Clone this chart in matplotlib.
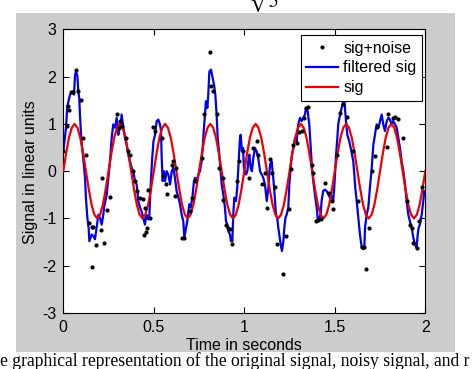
#!/usr/bin/env python
# Clean sine, noisy samples and the filtered output on a MATLAB-like grey panel

import numpy as np
import matplotlib.pyplot as plt
from matplotlib.patches import Rectangle

W, H = 474, 369

# clean signal, 64 samples per second over 2 s
sig = [0.0, 0.38, 0.71, 0.92, 1.0, 0.92, 0.71, 0.38, 0.0, -0.38, -0.71, -0.92, -1.0, -0.92, -0.71, -0.38,
       0.0, 0.38, 0.71, 0.92, 1.0, 0.92, 0.71, 0.38, 0.0, -0.38, -0.71, -0.92, -1.0, -0.92, -0.71, -0.38,
       0.0, 0.38, 0.71, 0.92, 1.0, 0.92, 0.71, 0.38, 0.0, -0.38, -0.71, -0.92, -1.0, -0.92, -0.71, -0.38,
       0.0, 0.38, 0.71, 0.92, 1.0, 0.92, 0.71, 0.38, 0.0, -0.38, -0.71, -0.92, -1.0, -0.92, -0.71, -0.38,
       0.0, 0.38, 0.71, 0.92, 1.0, 0.92, 0.71, 0.38, 0.0, -0.38, -0.71, -0.92, -1.0, -0.92, -0.71, -0.38,
       0.0, 0.38, 0.71, 0.92, 1.0, 0.92, 0.71, 0.38, 0.0, -0.38, -0.71, -0.92, -1.0, -0.92, -0.71, -0.38,
       0.0, 0.38, 0.71, 0.92, 1.0, 0.92, 0.71, 0.38, 0.0, -0.38, -0.71, -0.92, -1.0, -0.92, -0.71, -0.38,
       0.0, 0.38, 0.71, 0.92, 1.0, 0.92, 0.71, 0.38, 0.0, -0.38, -0.71, -0.92, -1.0, -0.92, -0.71, -0.38,
       0.0]
t_sig = np.arange(len(sig)) / 64.0

# filtered signal
t_filt = [0.000, 0.015, 0.022, 0.037, 0.052, 0.059, 0.065, 0.070, 0.078, 0.083, 0.088, 0.092, 0.099,
          0.110, 0.120, 0.125, 0.133, 0.140, 0.144, 0.157, 0.166, 0.175, 0.184, 0.194, 0.203, 0.212,
          0.221, 0.225, 0.240, 0.249, 0.258, 0.267, 0.276, 0.286, 0.295, 0.304, 0.310, 0.317, 0.322,
          0.332, 0.341, 0.350, 0.359, 0.368, 0.378, 0.387, 0.396, 0.405, 0.411, 0.414, 0.424, 0.433,
          0.442, 0.451, 0.460, 0.470, 0.476, 0.482, 0.490, 0.498,
          0.507, 0.516, 0.525, 0.534, 0.540, 0.543, 0.549, 0.556, 0.562, 0.571, 0.580, 0.590, 0.599,
          0.608, 0.617, 0.626, 0.636, 0.645, 0.654, 0.663, 0.669, 0.678, 0.685, 0.691, 0.696, 0.704,
          0.713, 0.722, 0.728, 0.737, 0.746, 0.755, 0.764, 0.770, 0.777, 0.783, 0.788, 0.796, 0.801,
          0.807, 0.816, 0.825, 0.834, 0.840, 0.847, 0.853, 0.862, 0.869, 0.875, 0.884, 0.893, 0.899,
          0.906, 0.912, 0.921, 0.926, 0.934, 0.939, 0.945, 0.954, 0.961, 0.969, 0.976, 0.980, 0.987,
          0.993, 0.998,
          1.009, 1.017, 1.022, 1.028, 1.035, 1.042, 1.050, 1.059, 1.068, 1.077, 1.087, 1.096, 1.105,
          1.114, 1.124, 1.133, 1.142, 1.151, 1.160, 1.166, 1.175, 1.182, 1.188, 1.193, 1.201, 1.208,
          1.216, 1.221, 1.227, 1.234, 1.243, 1.249, 1.256, 1.263, 1.271, 1.280, 1.289, 1.298, 1.308,
          1.317, 1.326, 1.335, 1.341, 1.350, 1.359, 1.366, 1.374, 1.381, 1.390, 1.400, 1.407, 1.414,
          1.422, 1.427, 1.436, 1.445, 1.455, 1.464, 1.473, 1.482, 1.491, 1.497, 1.503,
          1.507, 1.514, 1.519, 1.529, 1.538, 1.547, 1.551, 1.556, 1.562, 1.569, 1.580, 1.588, 1.595,
          1.602, 1.608, 1.613, 1.621, 1.630, 1.639, 1.649, 1.658, 1.663, 1.667, 1.676, 1.685, 1.694,
          1.704, 1.713, 1.722, 1.731, 1.741, 1.750, 1.759, 1.768, 1.777, 1.787, 1.796, 1.805, 1.814,
          1.823, 1.833, 1.842, 1.851, 1.860, 1.869, 1.879, 1.888, 1.897, 1.906, 1.915, 1.925, 1.934,
          1.943, 1.952, 1.958, 1.963, 1.970, 1.980, 1.989, 1.994]
filt = [0.42, 0.92, 1.37, 1.62, 1.69, 1.62, 2.04, 2.11, 2.01, 1.69, 1.55, 1.20, 0.70,
        0.28, -0.14, -0.56, -0.99, -1.20, -1.48, -1.34, -1.37, -1.44, -1.20, -0.92, -0.99, -1.13,
        -0.92, -0.77, -0.49, -0.14, 0.21, 0.70, 0.99, 0.92, 1.13, 0.77, 0.99, 0.92, 1.20,
        0.92, 0.70, 0.56, 0.35, 0.21, 0.07, 0.00, -0.21, -0.28, -0.49, -0.63, -0.77, -0.85,
        -0.99, -1.13, -0.92, -1.02, -0.92, -0.35, 0.21, 0.63,
        0.77, 1.06, 1.09, 0.99, 0.85, 0.35, -0.21, 0.00, -0.21, 0.00, -0.07, -0.28, 0.00,
        0.07, -0.14, -0.42, -0.56, -0.70, -0.92, -1.06, -1.41, -1.20, -1.06, -0.85, -0.70, -0.77,
        -0.56, -0.21, -0.14, -0.21, -0.07, 0.00, 0.21, 0.49, 0.92, 1.20, 1.48, 1.34, 1.62,
        2.11, 2.15, 1.97, 1.80, 1.62, 1.20, 0.70, 0.35, 0.00, -0.28, -0.49, -0.77, -1.06,
        -1.13, -1.27, -1.34, -1.48, -1.48, -0.92, -0.56, -0.63, -0.35, 0.21, 0.70, 0.77, 0.42,
        0.49, 0.07,
        -0.07, 0.00, 0.21, 0.35, 0.07, 0.00, 0.28, 0.49, 0.42, 0.28, 0.00, -0.07, -0.14,
        -0.28, -0.63, -0.35, 0.14, 0.21, -0.14, -0.42, -0.92, -0.99, -1.20, -1.34, -1.55, -1.69,
        -1.48, -1.20, -0.99, -0.92, -0.77, -0.28, 0.07, 0.35, 0.49, 0.70, 0.63, 0.99, 1.13,
        1.06, 1.13, 1.20, 1.34, 1.27, 0.99, 0.56, 0.07, -0.21, -0.49, -0.77, -1.06, -0.99,
        -0.92, -0.63, -0.42, -0.39, -0.42, -0.49, -0.56, -0.53, -0.63, -0.35, 0.07,
        0.35, 0.70, 0.99, 1.20, 1.34, 1.48, 1.62, 1.34, 1.06, 0.77, 0.63, 0.49, 0.35,
        0.21, -0.07, -0.35, -0.63, -0.99, -1.34, -1.62, -1.65, -1.62, -1.20, -0.92, -0.77, -0.35,
        0.07, 0.56, 0.77, 0.99, 0.92, 1.06, 1.20, 0.99, 0.85, 1.06, 1.13, 1.09, 0.99,
        1.06, 0.99, 0.92, 0.70, 0.49, 0.21, 0.00, -0.28, -0.63, -0.92, -1.06, -1.20, -1.41,
        -1.55, -1.62, -1.34, -1.20, -1.13, -0.92, -0.63, -0.42]

# noisy samples that are visible off the blue trace
t_noisy = [0.000, 0.019, 0.028, 0.033, 0.043, 0.052, 0.068, 0.083, 0.096, 0.107, 0.125, 0.144,
           0.157, 0.157, 0.166, 0.179, 0.206, 0.215, 0.225, 0.240, 0.258, 0.299, 0.310, 0.313,
           0.322, 0.346, 0.359, 0.368, 0.383, 0.396, 0.409, 0.424, 0.438, 0.451, 0.448, 0.457,
           0.461, 0.470, 0.479, 0.494, 0.507, 0.543, 0.553, 0.567, 0.575, 0.599, 0.608, 0.617,
           0.623, 0.654, 0.669, 0.700, 0.713, 0.728, 0.764, 0.779, 0.810, 0.816, 0.829, 0.847,
           0.862, 0.880, 0.884, 0.899, 0.912, 0.921, 0.930, 0.961, 0.972, 0.995, 1.028, 1.046,
           1.068, 1.077, 1.096, 1.114, 1.124, 1.142, 1.151, 1.170, 1.179, 1.212, 1.230, 1.249,
           1.256, 1.271, 1.289, 1.304, 1.317, 1.330, 1.341, 1.354, 1.372, 1.381, 1.396, 1.409,
           1.424, 1.445, 1.469, 1.482, 1.491, 1.514, 1.529, 1.543, 1.569, 1.599, 1.630, 1.649,
           1.663, 1.672, 1.691, 1.704, 1.722, 1.731, 1.787, 1.796, 1.823, 1.833, 1.851, 1.875,
           1.901, 1.915, 1.925, 1.930, 1.956, 1.967, 1.980]
noisy = [0.42, 0.95, 1.37, 1.30, 1.68, 1.68, 2.15, 1.69, 1.50, 0.70, 0.35, -1.09,
         -1.18, -2.03, -1.18, -1.56, -1.25, -0.15, -1.51, -0.83, -0.55, 1.21, 0.92, 1.06,
         0.95, 0.70, 0.42, 0.35, 0.00, -0.21, -0.42, -0.56, -0.58, -0.77, -1.35, -1.28,
         -1.20, -0.40, -0.99, 0.93, 0.86, 0.70, -0.11, -0.28, -0.49, 0.13, 0.21, -0.53,
         0.07, -1.41, -1.41, -0.85, -0.56, -0.21, 0.28, 1.21, 2.52, 1.80, 1.69, 1.21,
         0.07, -0.14, -0.60, -1.13, -1.20, -1.23, -1.54, -0.21, 0.21, 0.42, -0.15, 0.49,
         0.63, 0.35, -0.28, -0.04, -0.77, 0.25, -0.04, -0.34, -1.53, -2.17, -1.37, -0.80,
         0.04, 0.56, 0.60, 0.83, 0.85, 1.13, 1.34, 1.36, 0.14, -0.04, -1.06, -1.04,
         -1.02, -0.25, -0.47, -0.63, -0.81, 0.34, 1.23, 1.42, 1.14, 0.42, -0.63, -1.60,
         -1.60, -2.06, -1.20, 0.00, 0.32, 0.94, 0.51, 1.21, 1.13, 1.14, 1.11, 0.70,
         -0.63, -1.13, -1.20, -1.51, -1.62, -1.06, -0.34]

x_ticks = [0, 0.5, 1, 1.5, 2]
y_ticks = [-3, -2, -1, 0, 1, 2, 3]

plt.rcParams['font.family'] = ['Liberation Sans', 'DejaVu Sans']
plt.rcParams['mathtext.fontset'] = 'stix'
plt.rcParams['axes.unicode_minus'] = False

fig = plt.figure(figsize=(W / 100, H / 100), dpi=100, facecolor='white')

# grey MATLAB figure panel, kept behind the axes
fig.patches.append(Rectangle((16 / W, 1 - 351.7 / H), 439 / W, 339 / H,
                             transform=fig.transFigure, facecolor='#cccccc',
                             edgecolor='none', zorder=-10))

ax = fig.add_axes([63.3 / W, 1 - 313 / H, 362 / W, 283.6 / H])
ax.set_zorder(1)
ax.set_facecolor('white')

ax.plot(t_noisy, noisy, linestyle='none', marker='.', markersize=4, color='black',
        label='sig+noise', zorder=4)
ax.plot(t_filt, filt, color='#0000ee', linewidth=1.6, label='filtered sig', zorder=2)
ax.plot(t_sig, sig, color='#ee0000', linewidth=1.6, label='sig', zorder=3)

ax.set_xlim(0, 2)
ax.set_ylim(-3, 3)
ax.set_xticks(x_ticks)
ax.set_xticklabels(['0', '0.5', '1', '1.5', '2'])
ax.set_yticks(y_ticks)
ax.tick_params(direction='in', top=True, right=True, length=4, width=0.8,
               labelsize=11.5, pad=5)
for s in ax.spines.values():
    s.set_linewidth(0.8)

fig.text(244 / W, 1 - 345 / H, 'Time in seconds', ha='center', va='center', fontsize=11.5)
fig.text(31 / W, 1 - 172 / H, 'Signal in linear units', ha='center', va='center',
         rotation=90, fontsize=11.5)

leg = ax.legend(loc='upper right', bbox_to_anchor=(0.991, 0.980), borderaxespad=0,
                fontsize=11.5, frameon=True, fancybox=False, framealpha=1,
                edgecolor='black', handlelength=2.0, handletextpad=0.3,
                labelspacing=0.3, borderpad=0.35)
leg.get_frame().set_linewidth(0.8)

# bits of the surrounding page
fig.text(0 / W, 1 - 366 / H, 'e graphical representation of the original signal, noisy signal, and r',
         ha='left', va='baseline', fontsize=12.7, family='Liberation Serif')
fig.text(265 / W, 1 - 8 / H, r'$\sqrt{5}$', ha='center', va='baseline', fontsize=14)

fig.savefig('out.png', dpi=100, facecolor='white')
